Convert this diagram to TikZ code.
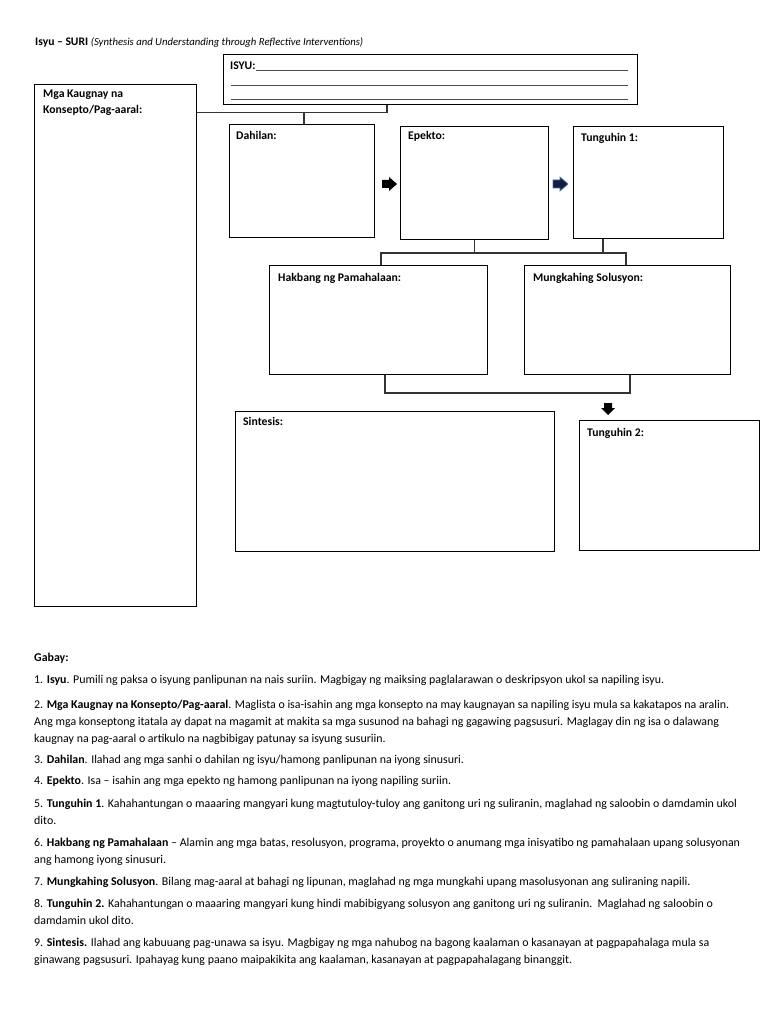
\documentclass[tikz,border=0pt]{standalone}
\usepackage{fontspec}
\setmainfont{Carlito}
\begin{document}
\begin{tikzpicture}[x=1pt,y=-1pt,
  box/.style={draw=black,line width=1.4pt,inner sep=0pt},
  conn/.style={draw=black!80,line width=1.1pt},
  lbl/.style={anchor=base west,inner sep=0pt,font=\fontsize{11.7}{13}\selectfont\bfseries},
  body/.style={anchor=base west,inner sep=0pt,font=\fontsize{11.9}{14}\selectfont},
  uline/.style={draw=black!70,line width=0.6pt}]
\useasboundingbox (0,0) rectangle (768,1024);
\fill[white] (0,0) rectangle (768,1024);
% title
\node[anchor=base west,inner sep=0pt] (title) at (35,46) {\fontsize{11.6}{13}\selectfont\textbf{Isyu – SURI} \fontsize{10.7}{12}\selectfont\textit{(Synthesis and Understanding through Reflective Interventions)}};
% boxes
\node[box,anchor=north west,minimum width=414pt,minimum height=50pt] (isyu) at (223,54) {};
\node[box,anchor=north west,minimum width=162pt,minimum height=522pt] (konsepto) at (34,84) {};
\node[box,anchor=north west,minimum width=145pt,minimum height=113pt] (dahilan) at (229,124) {};
\node[box,anchor=north west,minimum width=148pt,minimum height=113pt] (epekto) at (400,126) {};
\node[box,anchor=north west,minimum width=150pt,minimum height=112pt] (tung1) at (573,126) {};
\node[box,anchor=north west,minimum width=218pt,minimum height=109pt] (hakbang) at (269,265) {};
\node[box,anchor=north west,minimum width=206pt,minimum height=109pt] (mungk) at (524,265) {};
\node[box,anchor=north west,minimum width=319pt,minimum height=140pt] (sintesis) at (235,411) {};
\node[box,anchor=north west,minimum width=180pt,minimum height=130pt] (tung2) at (579,420) {};
% labels
\node[lbl] (isyuL) at (230,70) {ISYU:};
\draw[uline] (isyuL.base east) -- (628,70);
\draw[uline] (231,85) -- (628,85);
\draw[uline] (231,99) -- (628,99);
\node[lbl] (konL1) at (43,98) {Mga Kaugnay na};
\node[lbl] (konL2) at (43,114) {Konsepto/Pag-aaral:};
\node[lbl] (dahL) at (236,140) {Dahilan:};
\node[lbl] (epkL) at (408,140) {Epekto:};
\node[lbl] (t1L) at (581,142) {Tunguhin 1:};
\node[lbl] (hakL) at (278,281) {Hakbang ng Pamahalaan:};
\node[lbl] (munL) at (533,281) {Mungkahing Solusyon:};
\node[lbl] (sinL) at (243,425) {Sintesis:};
\node[lbl] (t2L) at (587,436) {Tunguhin 2:};
% connectors
\coordinate (j1) at (387,112.5);
\coordinate (j2) at (304,112.5);
\draw[conn] (isyu.south -| j1) -- (j1) -- (j1 -| konsepto.east);
\draw[conn] (j2) -- (j2 |- dahilan.north);
\coordinate (j3) at (381,253);
\coordinate (j4) at (626,253);
\coordinate (j5) at (603,253);
\draw[conn] (epekto.south) -- (epekto.south |- j3);
\draw[conn] (j5 |- tung1.south) -- (j5);
\draw[conn] (j3 |- hakbang.north) -- (j3) -- (j4) -- (j4 |- mungk.north);
\coordinate (j6) at (385,393);
\coordinate (j7) at (630,393);
\draw[conn] (j6 |- hakbang.south) -- (j6) -- (j7) -- (j7 |- mungk.south);
% block arrows
\fill[black] (382,180) -- (389,180) -- (389,177) -- (397,184) -- (389,191) -- (389,188) -- (382,188) -- cycle;
\filldraw[fill={rgb,255:red,20;green,30;blue,60},draw={rgb,255:red,70;green,110;blue,190},line width=0.6pt] (553,180) -- (560,180) -- (560,177) -- (568,184) -- (560,191) -- (560,188) -- (553,188) -- cycle;
\fill[black] (604,403) -- (612,403) -- (612,408) -- (615,408) -- (608,415) -- (601,408) -- (604,408) -- cycle;
% guide text
\node[body,font=\fontsize{11.9}{14}\selectfont\bfseries] (gabay) at (34,661) {Gabay:};
\node[body] (g1) at (34,683) {1. \textbf{Isyu}. Pumili ng paksa o isyung panlipunan na nais suriin. Magbigay ng maiksing paglalarawan o deskripsyon ukol sa napiling isyu.};
\node[body] (g2a) at (34,708) {2. \textbf{Mga Kaugnay na Konsepto/Pag-aaral}. Maglista o isa-isahin ang mga konsepto na may kaugnayan sa napiling isyu mula sa kakatapos na aralin.};
\node[body] (g2b) at (34,725) {Ang mga konseptong itatala ay dapat na magamit at makita sa mga susunod na bahagi ng gagawing pagsusuri. Maglagay din ng isa o dalawang};
\node[body] (g2c) at (34,742) {kaugnay na pag-aaral o artikulo na nagbibigay patunay sa isyung susuriin.};
\node[body] (g3) at (34,763) {3. \textbf{Dahilan}. Ilahad ang mga sanhi o dahilan ng isyu/hamong panlipunan na iyong sinusuri.};
\node[body] (g4) at (34,784) {4. \textbf{Epekto}. Isa – isahin ang mga epekto ng hamong panlipunan na iyong napiling suriin.};
\node[body] (g5a) at (34,807) {5. \textbf{Tunguhin 1}. Kahahantungan o maaaring mangyari kung magtutuloy-tuloy ang ganitong uri ng suliranin, maglahad ng saloobin o damdamin ukol};
\node[body] (g5b) at (34,824) {dito.};
\node[body] (g6a) at (34,846) {6. \textbf{Hakbang ng Pamahalaan} – Alamin ang mga batas, resolusyon, programa, proyekto o anumang mga inisyatibo ng pamahalaan upang solusyonan};
\node[body] (g6b) at (34,863) {ang hamong iyong sinusuri.};
\node[body] (g7) at (34,885) {7. \textbf{Mungkahing Solusyon}. Bilang mag-aaral at bahagi ng lipunan, maglahad ng mga mungkahi upang masolusyonan ang suliraning napili.};
\node[body] (g8a) at (34,907) {8. \textbf{Tunguhin 2.} Kahahantungan o maaaring mangyari kung hindi mabibigyang solusyon ang ganitong uri ng suliranin.\ \ Maglahad ng saloobin o};
\node[body] (g8b) at (34,924) {damdamin ukol dito.};
\node[body] (g9a) at (34,946) {9. \textbf{Sintesis.} Ilahad ang kabuuang pag-unawa sa isyu. Magbigay ng mga nahubog na bagong kaalaman o kasanayan at pagpapahalaga mula sa};
\node[body] (g9b) at (34,963) {ginawang pagsusuri. Ipahayag kung paano maipakikita ang kaalaman, kasanayan at pagpapahalagang binanggit.};
\end{tikzpicture}
\end{document}
